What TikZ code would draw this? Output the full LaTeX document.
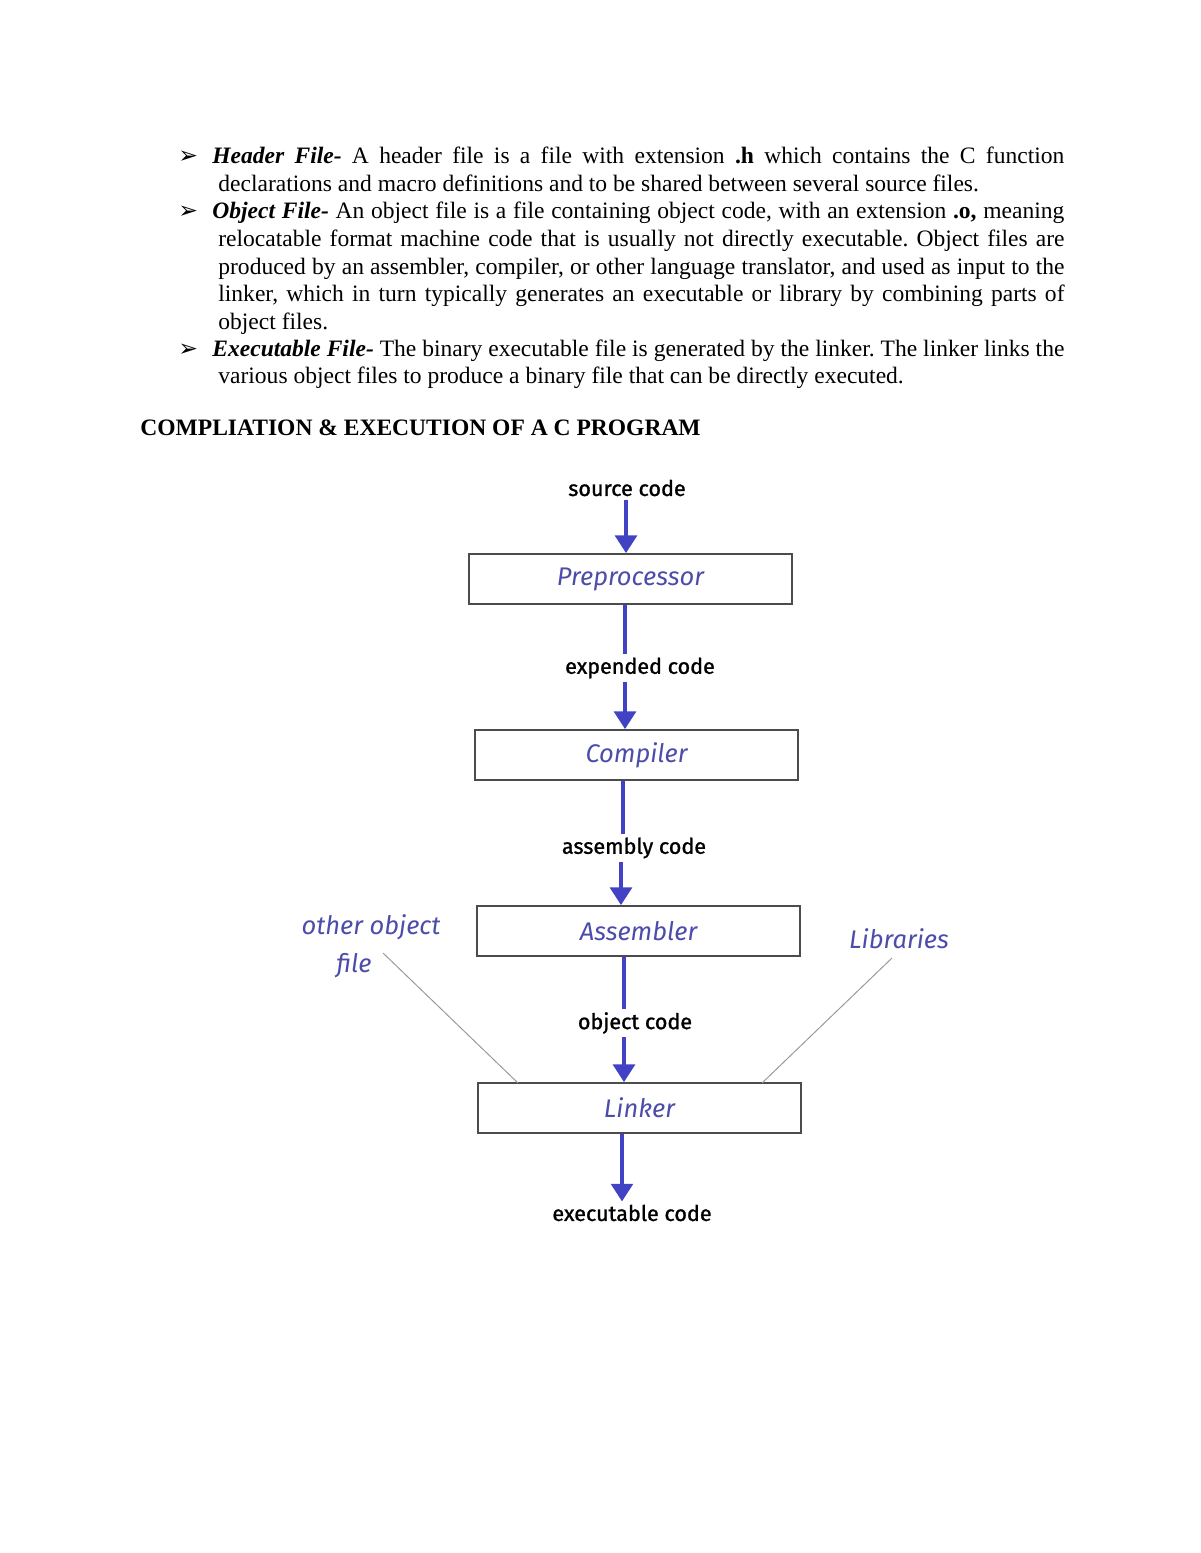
\documentclass[tikz,border=0pt]{standalone}
\usepackage{fontspec}
\setmainfont{Liberation Serif}
\newfontfamily\bulletfont{DejaVu Sans}
\newfontfamily\diafont{Fira Sans}
\newfontfamily\diafontb[FakeBold=1.2]{Fira Sans}
\usetikzlibrary{arrows.meta}
\definecolor{arrblue}{RGB}{66,66,196}
\definecolor{lblblue}{RGB}{76,76,170}
\frenchspacing
\begin{document}
\begin{tikzpicture}[x=0.51pt,y=-0.51pt,
  txt/.style={anchor=base west, inner sep=0pt, font=\fontsize{12}{14}\selectfont},
  bul/.style={anchor=base west, inner sep=0pt, font=\bulletfont\fontsize{12}{14}\selectfont},
  head/.style={anchor=base west, inner sep=0pt, font=\bfseries\fontsize{12}{14}\selectfont},
  box/.style={draw=black!70, line width=0.9pt, minimum width=164.7pt, minimum height=25.5pt, inner sep=0pt},
  proc/.style={box, font=\diafont\itshape\fontsize{13}{15}\selectfont, text=lblblue},
  lbl/.style={font=\diafontb\fontsize{11}{13}\selectfont, inner sep=1.5pt},
  olbl/.style={font=\diafont\itshape\fontsize{13}{15}\selectfont, text=lblblue, inner sep=1pt},
  arr/.style={draw=arrblue, line width=2pt, -{Triangle[length=9pt,width=11pt]}},
  ln/.style={draw=arrblue, line width=2pt},
  side/.style={draw=gray!80, line width=0.5pt}]
\useasboundingbox (0,0) rectangle (1200,1553);

% ---- text block ----
\node[bul] (b1) at (178,164) {➢};
\node[txt] (t1) at (212,164) {\hbox to 434.5pt{\textbf{\textit{Header File-}} A header file is a file with extension \textbf{.h} which contains the C function}};
\node[txt] (t2) at (218,192) {declarations and macro definitions and to be shared between several source files.};
\node[bul] (b2) at (178,219) {➢};
\node[txt] (t3) at (212,219) {\hbox to 434.5pt{\textbf{\textit{Object File-}} An object file is a file containing object code, with an extension \textbf{.o,} meaning}};
\node[txt] (t4) at (218,246) {\hbox to 431.5pt{relocatable format machine code that is usually not directly executable. Object files are}};
\node[txt] (t5) at (218,274) {\hbox to 431.5pt{produced by an assembler, compiler, or other language translator, and used as input to the}};
\node[txt] (t6) at (218,301) {\hbox to 431.5pt{linker, which in turn typically generates an executable or library by combining parts of}};
\node[txt] (t7) at (218,329) {object files.};
\node[bul] (b3) at (178,356) {➢};
\node[txt] (t8) at (212,356) {\hbox to 434.5pt{\textbf{\textit{Executable File-}} The binary executable file is generated by the linker. The linker links the}};
\node[txt] (t9) at (218,383) {various object files to produce a binary file that can be directly executed.};
\node[head] (h) at (140,435) {COMPLIATION \& EXECUTION OF A C PROGRAM};

% ---- diagram ----
\node[proc] (pre) at (630.5,579) {Preprocessor};
\node[proc] (comp) at (636.5,755) {Compiler};
\node[proc] (asm) at (638.5,931) {Assembler};
\node[proc] (link) at (639.5,1108) {Linker};

\node[lbl] (src) at (627,488) {source code};
\node[lbl] (exp) at (640,668) {expended code};
\node[lbl] (asc) at (634,848) {assembly code};
\node[lbl] (obj) at (635,1023) {object code};
\node[lbl] (exe) at (632,1213) {executable code};

\node[olbl] (oth) at (371,927) {other object};
\node[olbl] (fil) at (354,966) {file};
\node[olbl] (lib) at (899,939) {Libraries};

\coordinate (x1) at (626,0);
\coordinate (x2) at (625,0);
\coordinate (x3) at (623,0);
\coordinate (x4) at (621,0);
\coordinate (x5) at (624,0);
\coordinate (x6) at (622,0);

\draw[arr] (src.south -| x1) -- (pre.north -| x1);
\draw[ln] (pre.south -| x2) -- (exp.north -| x2);
\draw[arr] (exp.south -| x2) -- (comp.north -| x2);
\draw[ln] (comp.south -| x3) -- (asc.north -| x3);
\draw[arr] (asc.south -| x4) -- (asm.north -| x4);
\draw[ln] (asm.south -| x5) -- (obj.north -| x5);
\draw[arr] (obj.south -| x5) -- (link.north -| x5);
\draw[arr] (link.south -| x6) -- (exe.north -| x6);

\coordinate (o1) at (383,953);
\coordinate (o2) at (518,1083);
\coordinate (l1) at (892,958);
\coordinate (l2) at (762,1083);
\draw[side] (o1) -- (o2);
\draw[side] (l1) -- (l2);
\end{tikzpicture}
\end{document}
